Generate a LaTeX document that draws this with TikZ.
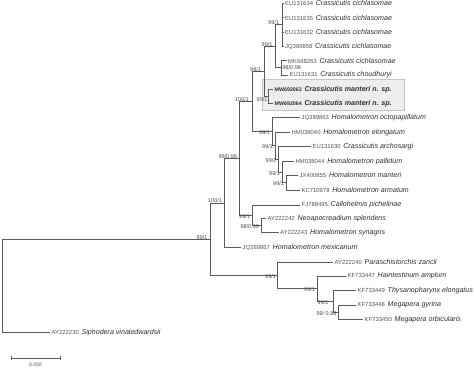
\documentclass[tikz,border=0pt]{standalone}
\usepackage{fontspec}
\setmainfont{Liberation Sans}
\usetikzlibrary{calc}
\definecolor{linecol}{HTML}{5A5A5A}
\definecolor{acccol}{HTML}{555555}
\definecolor{spcol}{HTML}{2E2E2E}
\definecolor{supcol}{HTML}{4A4A4A}
\definecolor{boxfill}{HTML}{EDEDED}
\definecolor{boxline}{HTML}{C4C4C4}
\newcommand{\accn}[1]{{\fontsize{5.9}{7}\selectfont\color{acccol}#1}}
\newcommand{\spn}[1]{{\fontsize{7.1}{8}\selectfont\itshape\color{spcol}#1}}
\newcommand{\accb}[1]{{\fontsize{5.3}{7}\selectfont\bfseries\color{spcol}#1}}
\newcommand{\spb}[1]{{\fontsize{7.1}{8}\selectfont\bfseries\itshape\color{spcol}#1}}
\begin{document}
\begin{tikzpicture}[x=1pt,y=-1pt,
  br/.style={draw=linecol,line width=0.75pt},
  leaf/.style={anchor=west,inner xsep=1.5pt,inner ysep=0pt},
  supa/.style={anchor=south east,inner sep=0.4pt,font=\fontsize{5.5}{6}\selectfont,text=supcol},
  supb/.style={anchor=north east,inner sep=0.4pt,font=\fontsize{5.5}{6}\selectfont,text=supcol},
  supr/.style={anchor=west,inner sep=0.4pt,font=\fontsize{5.5}{6}\selectfont,text=supcol}]
\useasboundingbox (0,0) rectangle (474,367);
% highlight box
\fill[boxfill,draw=boxline,line width=0.5pt] (262,79) rectangle (404,110);
% internal nodes
\coordinate (R) at (2,285.95);
\coordinate (Ncr) at (210,239.2);
\coordinate (Nm) at (224,202.95);
\coordinate (Nx) at (239,158.4);
\coordinate (Ntop) at (252,101.45);
\coordinate (Ncc) at (264.5,71.3);
\coordinate (A) at (275,46.3);
\coordinate (C4) at (282,24.75);
\coordinate (MKn) at (281,67.85);
\coordinate (MWn) at (268.5,96.3);
\coordinate (H1) at (272,131.6);
\coordinate (H2) at (275,145.77);
\coordinate (H3) at (278.5,159.34);
\coordinate (H4) at (282,171.98);
\coordinate (H5) at (286,182.65);
\coordinate (C1) at (252,215.3);
\coordinate (C2) at (261,225.6);
\coordinate (L1) at (277,275.5);
\coordinate (L2) at (317,288.65);
\coordinate (L3) at (333,301.4);
\coordinate (L4) at (338,312.15);
% leaves
\node[leaf] (l1) at (283.5,3.3) {\accn{EU131634} \spn{Crassicutis cichlasomae}};
\node[leaf] (l2) at (283.5,17.5) {\accn{EU131635} \spn{Crassicutis cichlasomae}};
\node[leaf] (l3) at (283.5,32) {\accn{EU131632} \spn{Crassicutis cichlasomae}};
\node[leaf] (l4) at (283.5,46.2) {\accn{JQ389858} \spn{Crassicutis cichlasomae}};
\node[leaf] (l5) at (286.5,60.7) {\accn{MK648263} \spn{Crassicutis cichlasomae}};
\node[leaf] (l6) at (288,75) {\accn{EU131631} \spn{Crassicutis choudhuryi}};
\node[leaf] (l7) at (273,89.3) {\accb{MW692063} \spb{Crassicutis manteri n. sp.}};
\node[leaf] (l8) at (273,103.3) {\accb{MW692064} \spb{Crassicutis manteri n. sp.}};
\node[leaf] (l9) at (300,117.5) {\accn{JQ389863} \spn{Homalometron octopapillatum}};
\node[leaf] (l10) at (290,132.2) {\accn{HM038040} \spn{Homalometron elongatum}};
\node[leaf] (l11) at (311,146.7) {\accn{EU131630} \spn{Crassicutis archosargi}};
\node[leaf] (l12) at (294,161.3) {\accn{HM038044} \spn{Homalometron pallidum}};
\node[leaf] (l13) at (298,175.3) {\accn{JX400855} \spn{Homalometron manteri}};
\node[leaf] (l14) at (300,190) {\accn{KC710978} \spn{Homalometron armatum}};
\node[leaf] (l15) at (300,205) {\accn{FJ788495} \spn{Callohelmis pichelinae}};
\node[leaf] (l16) at (266,218.5) {\accn{AY222242} \spn{Neoapocreadium splendens}};
\node[leaf] (l17) at (278.5,232.7) {\accn{AY222243} \spn{Homalometron synagris}};
\node[leaf] (l18) at (241,247.5) {\accn{JQ389867} \spn{Homalometron mexicanum}};
\node[leaf] (l19) at (333,262.3) {\accn{AY222240} \spn{Paraschistorchis zancli}};
\node[leaf] (l20) at (346,275.9) {\accn{KF733447} \spn{Haintestinum amplum}};
\node[leaf] (l21) at (356,290.7) {\accn{KF733449} \spn{Thysanopharynx elongatus}};
\node[leaf] (l22) at (356,305) {\accn{KF733448} \spn{Megapera gyrina}};
\node[leaf] (l23) at (363,319.3) {\accn{KF733450} \spn{Megapera orbicularis}};
\node[leaf] (l24) at (50,332.7) {\accn{AY222230} \spn{Siphodera vinaledwardsii}};
% branches
\draw[br] (R) |- (Ncr);
\draw[br] (R) |- (l24.west);
\draw[br] (Ncr) |- (Nm);
\draw[br] (Ncr) |- (L1);
\draw[br] (Nm) |- (Nx);
\draw[br] (Nm) |- (l18.west);
\draw[br] (Nx) |- (Ntop);
\draw[br] (Nx) |- (C1);
\draw[br] (Ntop) |- (Ncc);
\draw[br] (Ntop) |- (H1);
\draw[br] (Ncc) |- (A);
\draw[br] (Ncc) |- (MWn);
\draw[br] (A) |- (C4);
\draw[br] (A) |- (MKn);
\draw[br] (C4) |- (l1.west);
\draw[br] (C4) |- (l2.west);
\draw[br] (C4) |- (l3.west);
\draw[br] (C4) |- (l4.west);
\draw[br] (MKn) |- (l5.west);
\draw[br] (MKn) |- (l6.west);
\draw[br] (MWn) |- (l7.west);
\draw[br] (MWn) |- (l8.west);
\draw[br] (H1) |- (l9.west);
\draw[br] (H1) |- (H2);
\draw[br] (H2) |- (l10.west);
\draw[br] (H2) |- (H3);
\draw[br] (H3) |- (l11.west);
\draw[br] (H3) |- (H4);
\draw[br] (H4) |- (l12.west);
\draw[br] (H4) |- (H5);
\draw[br] (H5) |- (l13.west);
\draw[br] (H5) |- (l14.west);
\draw[br] (C1) |- (l15.west);
\draw[br] (C1) |- (C2);
\draw[br] (C2) |- (l16.west);
\draw[br] (C2) |- (l17.west);
\draw[br] (L1) |- (l19.west);
\draw[br] (L1) |- (L2);
\draw[br] (L2) |- (l20.west);
\draw[br] (L2) |- (L3);
\draw[br] (L3) |- (l21.west);
\draw[br] (L3) |- (L4);
\draw[br] (L4) |- (l22.west);
\draw[br] (L4) |- (l23.west);
% support values
\node[supa] (s1) at ([xshift=-2pt,yshift=-0.6pt]Ncr) {99/1};
\node[supa] (s2) at ([xshift=-1.5pt,yshift=-0.6pt]Nm) {100/1};
\node[supa] (s3) at ([xshift=-1.5pt,yshift=-0.6pt]Nx) {99/0.99};
\node[supa] (s4) at ([xshift=-2.5pt,yshift=-0.6pt]Ntop) {100/1};
\node[supa] (s5) at ([xshift=-3pt,yshift=-0.6pt]Ncc) {99/1};
\node[supa] (s6) at ([xshift=-2pt,yshift=-0.6pt]A) {99/1};
\node[supa] (s7) at ([xshift=-2.5pt,yshift=-0.6pt]C4) {99/1};
\node[supr] (s8) at ([xshift=1pt,yshift=0.4pt]MKn) {98/0.98};
\node[supb] (s9) at ([xshift=-0.5pt,yshift=-0.5pt]MWn) {99/1};
\node[supb] (s10) at ([xshift=-1.5pt,yshift=1.5pt]H1) {99/1};
\node[supb] (s11) at ([xshift=-1.5pt,yshift=1.5pt]H2) {99/1};
\node[supb] (s12) at ([xshift=-1.5pt,yshift=1.5pt]H3) {99/1};
\node[supb] (s13) at ([xshift=-1.5pt,yshift=1.5pt]H4) {99/1};
\node[supb] (s14) at ([xshift=-1.5pt,yshift=1.5pt]H5) {99/1};
\node[supb] (s15) at ([xshift=-1.5pt,yshift=1.5pt]C1) {99/1};
\node[supb] (s16) at ([xshift=-1.5pt,yshift=1.5pt]C2) {98/0.99};
\node[supb] (s17) at ([xshift=-0.5pt,yshift=1.5pt]L1) {99/1};
\node[supb] (s18) at ([xshift=-1.5pt,yshift=1.5pt]L2) {99/1};
\node[supb] (s19) at ([xshift=-4pt,yshift=1.5pt]L3) {99/1};
\node[supb] (s20) at ([xshift=-1pt,yshift=1.5pt]L4) {99/ 0.88};
% scale bar
\coordinate (sb1) at (11,358);
\coordinate (sb2) at (60,358);
\draw[br,line width=0.6pt] (sb1) -- (sb2);
\draw[br,line width=0.6pt] ([yshift=-2pt]sb1) -- ([yshift=2pt]sb1);
\draw[br,line width=0.6pt] ([yshift=-2pt]sb2) -- ([yshift=2pt]sb2);
\node[font=\fontsize{5}{6}\selectfont,text=supcol,inner sep=0pt] (sbl) at ($(sb1)!0.5!(sb2)+(0,6.5)$) {0.050};
\end{tikzpicture}
\end{document}
